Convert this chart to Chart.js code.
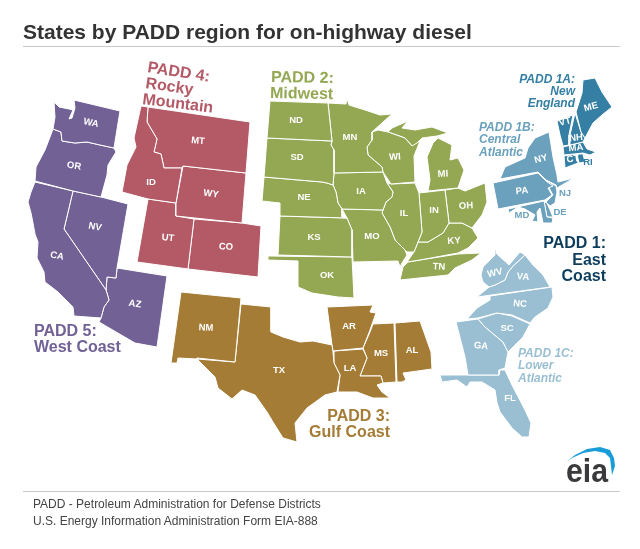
<!DOCTYPE html>
<html>
<head>
<meta charset="utf-8">
<title>States by PADD region for on-highway diesel</title>
<script src="https://cdn.jsdelivr.net/npm/chart.js@4"></script>
<style>
    html, body { margin: 0; padding: 0; background: #fff; overflow: hidden; }
    #page { position: relative; width: 640px; height: 549px; font-family: "Liberation Sans", Arial, sans-serif; }
    #map { position: absolute; left: 0; top: 0; }
    h1 { position: absolute; left: 23px; top: 19px; margin: 0; font-size: 21px; line-height: 26px; font-weight: bold; color: #333; white-space: nowrap; }
    .rule { position: absolute; left: 23px; width: 597px; height: 1px; background: #c8c8c8; }
    .note { position: absolute; left: 33px; font-size: 12px; line-height: 16px; color: #444; white-space: nowrap; }
</style>
</head>
<body>
<div id="page">
    <canvas id="map" width="640" height="549"></canvas>
    <h1>States by PADD region for on-highway diesel</h1>
    <div class="rule" style="top:46px"></div>
    <div class="rule" style="top:491px"></div>
    <div class="note" style="top:496px">PADD - Petroleum Administration for Defense Districts</div>
    <div class="note" style="top:513px">U.S. Energy Information Administration Form EIA-888</div>
</div>
<script>
// state outlines as [x, y] on the map axes
const WA = [[54,102],[59,107],[69,109],[73,110],[69,119],[72,118],[75,108],[74,100],[120,111],[114,148],[100,145],[87,142],[75,143],[62,141],[61,132],[53,129],[55,117]];
const OR = [[53,129],[61,132],[62,141],[75,143],[87,142],[100,145],[114,148],[116,152],[108,165],[107,175],[101,197],[73,191],[35,181],[36,167],[45,150],[50,137]];
const CA = [[35,182],[73,191],[64,229],[106,290],[109,300],[104,307],[101,318],[74,316],[73,307],[58,292],[45,282],[44,272],[37,258],[38,242],[35,234],[33,223],[31,213],[28,202],[31,192]];
const NV = [[73,191],[101,197],[128,204],[117,268],[116,278],[107,277],[106,290],[64,229]];
const AZ = [[117,268],[167,276],[157,347],[135,343],[99,322],[101,318],[104,307],[109,300],[106,290],[107,277],[116,278]];

const ID = [[141,106],[148,107],[147,122],[157,139],[154,152],[161,154],[164,168],[182,168],[176,203],[148,199],[122,192],[127,165],[136,147],[134,138]];
const MT = [[148,107],[250,122],[246,173],[183,166],[182,168],[164,168],[161,154],[154,152],[157,139],[147,122]];
const WY = [[183,166],[246,173],[242,223],[176,216],[176,203]];
const UT = [[148,199],[176,203],[176,216],[194,219],[188,269],[137,262]];
const CO = [[194,219],[242,223],[261,226],[258,277],[188,269]];

const ND = [[270,101],[328,103],[332,141],[267,138]];
const SD = [[267,138],[332,141],[331,145],[334,150],[334,173],[333,185],[327,183],[322,182],[264,177]];
const NE = [[264,177],[322,182],[327,183],[333,185],[336,192],[338,203],[342,209],[342,217],[347,218],[280,216],[280,203],[262,201]];
const KS = [[280,216],[347,218],[349,223],[352,230],[352,257],[278,255]];
const OK = [[268,256],[352,257],[354,298],[338,297],[325,295],[312,293],[298,287],[298,261],[268,260]];
const MN = [[328,103],[346,104],[347,98],[349,105],[365,110],[380,115],[392,114],[372,132],[372,140],[367,147],[368,155],[382,167],[383,172],[334,173],[334,150],[331,145],[332,141]];
const WI = [[372,132],[378,130],[388,132],[405,138],[412,146],[420,141],[414,156],[415,182],[391,184],[383,172],[382,167],[368,155],[367,147],[372,140]];
const MI_UPPER = [[388,132],[392,128],[408,121],[402,128],[415,130],[432,127],[448,133],[437,136],[422,138],[413,147],[405,138]];
const MI_LOWER = [[438,138],[452,145],[450,160],[458,158],[464,170],[458,188],[428,191],[430,180],[427,157],[433,143]];
const IA = [[334,173],[383,172],[387,183],[393,192],[392,197],[386,202],[383,210],[342,209],[338,203],[336,192],[333,185]];
const MO = [[342,209],[383,210],[382,213],[390,227],[395,240],[405,250],[407,255],[402,263],[400,267],[398,261],[353,262],[352,230],[349,223],[347,218]];
const IL = [[391,184],[415,183],[419,193],[422,232],[418,242],[414,252],[407,252],[395,240],[390,227],[382,213],[383,210],[386,202],[392,197],[393,192],[387,183]];
const IN = [[419,193],[445,190],[449,223],[443,233],[428,242],[418,242],[422,232]];
const OH = [[445,190],[458,188],[465,191],[485,183],[487,202],[482,215],[472,228],[462,223],[452,223],[449,223]];
const KY = [[449,223],[462,223],[472,228],[478,238],[468,248],[458,253],[420,260],[407,262],[414,252],[418,242],[428,242],[443,233]];
const TN = [[408,262],[420,260],[458,254],[481,253],[472,260],[455,268],[448,275],[400,280],[403,267]];

const NM = [[181,292],[241,298],[235,362],[197,358],[197,359],[178,358],[177,363],[171,363]];
const TX = [[241,304],[271,307],[271,332],[283,337],[300,342],[313,341],[332,345],[333,352],[334,363],[340,375],[337,392],[325,395],[307,408],[295,423],[297,442],[283,438],[273,422],[267,412],[255,395],[242,390],[232,399],[218,388],[215,377],[197,359],[235,362]];
const AR = [[327,307],[373,305],[370,312],[376,313],[370,330],[363,348],[333,351],[332,345]];
const LA = [[334,351],[363,349],[367,358],[360,376],[381,376],[383,383],[377,385],[382,392],[390,398],[373,398],[357,392],[338,392],[340,375],[334,363]];
const MS = [[373,324],[394,323],[396,382],[383,383],[381,376],[360,376],[367,358],[363,348],[370,332]];
const AL = [[395,323],[420,321],[431,352],[432,369],[403,373],[406,380],[402,382],[397,382]];

const ME = [[583,80],[595,78],[602,92],[612,107],[602,115],[593,123],[585,138],[581,132],[576,112],[582,93]];
const VT = [[557,121],[573,115],[569,135],[569,145],[563,146],[560,135]];
const NH = [[575,113],[581,132],[585,138],[583,142],[570,145],[570,135]];
const MA = [[563,147],[583,142],[587,149],[596,152],[590,155],[583,153],[564,155]];
const CT = [[564,156],[576,154],[578,163],[565,168]];
const RI = [[577,154],[583,154],[585,162],[579,163]];

const NY = [[549,132],[553,157],[557,175],[558,182],[574,178],[557,188],[556,185],[546,180],[538,172],[500,179],[505,167],[525,158],[528,148],[535,138]];
const PA = [[493,183],[538,173],[546,181],[553,186],[548,188],[552,195],[545,200],[498,209]];
const NJ = [[547,181],[556,186],[557,192],[555,203],[550,206],[546,202],[553,195],[549,188]];
const MD = [[508,209],[544,201],[547,217],[553,218],[552,223],[543,223],[540,208],[537,212],[538,222],[532,221],[535,215],[525,209],[518,207],[509,213]];
const DE = [[544,202],[547,203],[553,217],[547,217]];

const WV = [[481,275],[483,267],[495,255],[495,247],[497,254],[509,265],[520,252],[525,255],[513,266],[508,272],[505,280],[495,285],[489,287],[483,282]];
const VA = [[477,297],[489,287],[495,285],[505,280],[508,272],[513,266],[525,255],[533,265],[543,275],[550,287]];
const NC = [[490,296],[552,287],[553,297],[548,308],[535,317],[530,323],[512,315],[497,313],[478,318],[467,319],[477,308],[490,300]];
const SC = [[478,319],[497,313],[512,316],[530,324],[523,337],[508,352],[503,342],[485,327]];
const GA = [[456,322],[478,319],[485,327],[503,342],[508,352],[505,368],[499,370],[499,375],[468,375],[465,357]];
const FL = [[440,375],[468,375],[499,375],[500,370],[505,370],[512,385],[525,410],[531,423],[529,437],[522,437],[512,428],[500,412],[497,403],[495,390],[482,382],[470,382],[467,387],[457,380],[442,382]];

const LOGO_ARC = [[566,462],[575,455],[587,449],[600,447],[610,450],[614,458],[615,466],[612,475],[611,466],[610,458],[605,453],[595,451],[583,453],[572,458]];

const padd5 = [WA, OR, CA, NV, AZ];
const padd4 = [ID, MT, WY, UT, CO];
const padd2 = [ND, SD, NE, KS, OK, MN, WI, MI_UPPER, MI_LOWER, IA, MO, IL, IN, OH, KY, TN];
const padd3 = [NM, TX, AR, LA, MS, AL];
const padd1a = [ME, VT, NH, MA, CT, RI];
const padd1b = [NY, PA, NJ, MD, DE];
const padd1c = [WV, VA, NC, SC, GA, FL];

const colors = {
    p5: '#716195', p4: '#b35a66', p2: '#94a853', p3: '#a47c35',
    p1: '#0d3c5c', p1a: '#347fa3', p1b: '#6ba1bd', p1c: '#9abfd3'
};

// [text, x, y, degrees]
const stateLabels = [
    ['WA',91,123,12],['OR',74,166,8],['CA',57,256,12],['NV',95,227,12],['AZ',135,304,8],
    ['ID',151,182,0],['MT',198,141,5],['WY',211,194,8],['UT',168,238,5],['CO',226,247,3],
    ['ND',296,120,0],['SD',297,157,0],['NE',304,197,0],['KS',314,237,0],['OK',327,275,0],
    ['MN',350,137,0],['IA',361,191,0],['MO',372,236,0],['WI',395,157,-3],['MI',443,174,-3],
    ['IL',404,213,0],['IN',434,210,0],['OH',466,206,-3],['KY',454,241,-3],['TN',439,267,3],
    ['NM',206,328,3],['TX',279,370,0],['AR',349,326,0],['LA',350,368,0],['MS',381,353,0],['AL',412,350,0],
    ['ME',591,107,-15],['VT',565,122,-15],['NH',576,138,-5],['MA',576,148,-5],['CT',573,159,-8],
    ['NY',541,159,-15],['PA',522,191,-6],
    ['WV',495,273,-12],['VA',523,277,5],['NC',520,304,5],['SC',507,328,0],['GA',481,346,5],['FL',510,398,0]
];
const outsideLabels = [
    ['RI',588,162,colors.p1a],['NJ',565,193,colors.p1b],['MD',522,215,colors.p1b],['DE',560,212,colors.p1b]
];
// [text, x, baseline, degrees, colour, font, align]
const BIG = 'bold 16px "Liberation Sans"';
const SMALL = 'italic bold 12px "Liberation Sans"';
const regionLabels = [
    ['PADD 4:',147,72,9,colors.p4,BIG,'left'],['Rocky',145,88,8,colors.p4,BIG,'left'],['Mountain',142,104,7,colors.p4,BIG,'left'],
    ['PADD 5:',34,336,0,colors.p5,BIG,'left'],['West Coast',34,352,0,colors.p5,BIG,'left'],
    ['PADD 2:',271,82,1,colors.p2,BIG,'left'],['Midwest',270,98,1,colors.p2,BIG,'left'],
    ['PADD 3:',390,421,0,colors.p3,BIG,'right'],['Gulf Coast',390,437,0,colors.p3,BIG,'right'],
    ['PADD 1:',606,248,0,colors.p1,BIG,'right'],['East',606,265,0,colors.p1,BIG,'right'],['Coast',606,281,0,colors.p1,BIG,'right'],
    ['PADD 1A:',575,83,0,colors.p1a,SMALL,'right'],['New',575,95,0,colors.p1a,SMALL,'right'],['England',575,107,0,colors.p1a,SMALL,'right'],
    ['PADD 1B:',479,131,0,colors.p1b,SMALL,'left'],['Central',479,143,0,colors.p1b,SMALL,'left'],['Atlantic',479,156,0,colors.p1b,SMALL,'left'],
    ['PADD 1C:',518,357,0,colors.p1c,SMALL,'left'],['Lower',518,369,0,colors.p1c,SMALL,'left'],['Atlantic',518,382,0,colors.p1c,SMALL,'left']
];

function shape(points, color) {
    // repeat the first point so the white border closes round the state
    const closed = points.concat([points[0]]);
    return {
        data: closed.map(p => ({x: p[0], y: p[1]})),
        showLine: true,
        fill: 'shape',
        backgroundColor: color,
        borderColor: '#ffffff',
        borderWidth: 1,
        pointRadius: 0
    };
}

function drawText(ctx, text, x, y, deg, color, font, align, baseline, maxWidth) {
    ctx.save();
    ctx.translate(x, y);
    ctx.rotate(deg * Math.PI / 180);
    ctx.fillStyle = color;
    ctx.font = font;
    ctx.textAlign = align;
    ctx.textBaseline = baseline;
    if (maxWidth) {
        ctx.fillText(text, 0, 0, maxWidth);
    } else {
        ctx.fillText(text, 0, 0);
    }
    ctx.restore();
}

const mapText = {
    id: 'mapText',
    afterDatasetsDraw: function (chart) {
        const ctx = chart.ctx;
        const xs = chart.scales.x;
        const ys = chart.scales.y;
        const stateFont = 'bold 9.5px "Liberation Sans"';
        stateLabels.forEach(l => {
            drawText(ctx, l[0], xs.getPixelForValue(l[1]), ys.getPixelForValue(l[2]), l[3], '#ffffff', stateFont, 'center', 'middle');
        });
        outsideLabels.forEach(l => {
            drawText(ctx, l[0], xs.getPixelForValue(l[1]), ys.getPixelForValue(l[2]), 0, l[3], stateFont, 'center', 'middle');
        });
        regionLabels.forEach(l => {
            drawText(ctx, l[0], xs.getPixelForValue(l[1]), ys.getPixelForValue(l[2]), l[3], l[4], l[5], l[6], 'alphabetic');
        });
        drawText(ctx, 'eia', 566, 482, 0, '#3a3a3c', 'bold 33px "Liberation Sans"', 'left', 'alphabetic', 42);
    }
};

const datasets = [
    ...padd5.map(s => shape(s, colors.p5)),
    ...padd4.map(s => shape(s, colors.p4)),
    ...padd2.map(s => shape(s, colors.p2)),
    ...padd3.map(s => shape(s, colors.p3)),
    ...padd1a.map(s => shape(s, colors.p1a)),
    ...padd1b.map(s => shape(s, colors.p1b)),
    ...padd1c.map(s => shape(s, colors.p1c)),
    shape(LOGO_ARC, '#1a9cd8')
];
datasets[datasets.length - 1].borderWidth = 0;

new Chart(document.getElementById('map'), {
    type: 'scatter',
    data: {datasets: datasets},
    options: {
        responsive: false,
        animation: false,
        events: [],
        layout: {padding: 0},
        plugins: {legend: {display: false}, tooltip: {enabled: false}, title: {display: false}},
        scales: {
            x: {type: 'linear', display: false, min: 0, max: 640},
            y: {type: 'linear', display: false, min: 0, max: 549, reverse: true}
        }
    },
    plugins: [mapText]
});
</script>
</body>
</html>
